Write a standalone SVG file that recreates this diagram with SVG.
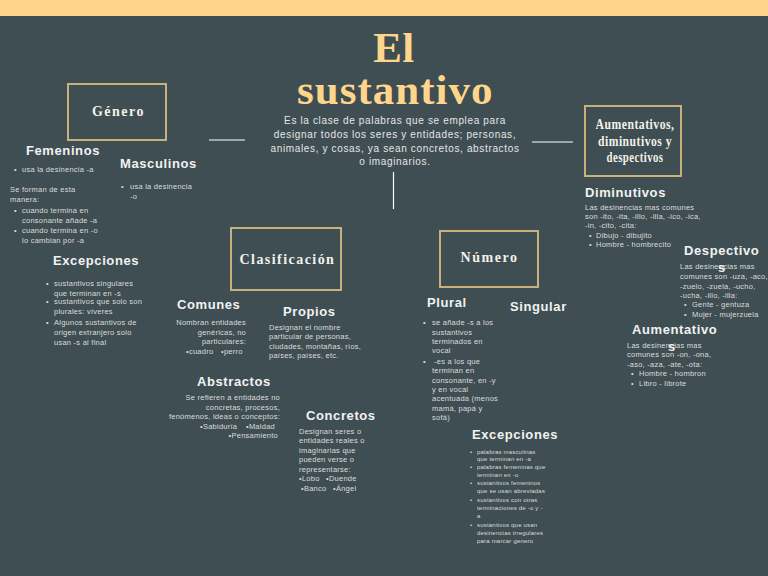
<svg xmlns="http://www.w3.org/2000/svg" width="768" height="576" viewBox="0 0 768 576">
<style>
.bg{fill:#3e4e52}
.box{fill:none;stroke:#c9b17e;stroke-width:2}
.ttl{font-family:"Liberation Serif","DejaVu Serif",serif;font-weight:bold;fill:#f4f1ea;font-size:14px;letter-spacing:0.6px;text-anchor:middle}
.big{font-family:"Liberation Serif","DejaVu Serif",serif;font-weight:bold;fill:#ffd58b;font-size:43px;text-anchor:middle;letter-spacing:0.5px}
.h{font-family:"Liberation Sans","Arial",sans-serif;font-weight:bold;fill:#f2f2f2;font-size:13px;letter-spacing:0.6px}
.t{font-family:"Liberation Sans","Arial",sans-serif;fill:#dcdcdc;font-size:7.5px;letter-spacing:0.25px}
.s{font-family:"Liberation Sans","Arial",sans-serif;fill:#dcdcdc;font-size:6px;letter-spacing:0.2px}
.d{font-family:"Liberation Sans","Arial",sans-serif;fill:#e6e6e6;font-size:10px;letter-spacing:0.65px;text-anchor:middle}
.r{text-anchor:end}
.ln{stroke:#ffffff;stroke-width:1.2;fill:none}
</style>
<rect class="bg" x="0" y="0" width="768" height="576"/>
<rect x="0" y="0" width="768" height="16" fill="#ffd58b"/>

<g id="connectors">
<line class="ln" x1="209" y1="140" x2="245" y2="140"/>
<line class="ln" x1="532" y1="142" x2="573" y2="142"/>
<line class="ln" x1="393.5" y1="172" x2="393.5" y2="209"/>
</g>

<g id="title">
<text class="big" x="394" y="62">El</text>
<text class="big" x="395" y="104" textLength="196" lengthAdjust="spacing">sustantivo</text>
<text class="d" x="395" y="124">Es la clase de palabras que se emplea para</text>
<text class="d" x="395" y="138">designar todos los seres y entidades; personas,</text>
<text class="d" x="395" y="152">animales, y cosas, ya sean concretos, abstractos</text>
<text class="d" x="395" y="165">o imaginarios.</text>
</g>

<g id="genero">
<rect class="box" x="68" y="84" width="98" height="56"/>
<text class="ttl" x="118" y="116" textLength="52" lengthAdjust="spacing">Género</text>
</g>

<g id="femeninos">
<text class="h" x="26" y="155">Femeninos</text>
<text class="t" x="14" y="172">•</text><text class="t" x="22" y="172">usa la desinencia -a</text>
<text class="t" x="10" y="192">Se forman de esta</text>
<text class="t" x="10" y="202">manera:</text>
<text class="t" x="14" y="213">•</text><text class="t" x="22" y="213">cuando termina en</text>
<text class="t" x="22" y="223">consonante añade -a</text>
<text class="t" x="14" y="233">•</text><text class="t" x="22" y="233">cuando termina en -o</text>
<text class="t" x="22" y="243">lo cambian por -a</text>
</g>

<g id="masculinos">
<text class="h" x="120" y="168">Masculinos</text>
<text class="t" x="121" y="189">•</text><text class="t" x="130" y="189">usa la desinencia</text>
<text class="t" x="130" y="199">-o</text>
</g>

<g id="excepciones1">
<text class="h" x="53" y="265">Excepciones</text>
<text class="t" x="46" y="286">•</text><text class="t" x="54" y="286">sustantivos singulares</text>
<text class="t" x="54" y="296">que terminan en -s</text>
<text class="t" x="46" y="304">•</text><text class="t" x="54" y="304">sustantivos que solo son</text>
<text class="t" x="54" y="314">plurales: víveres</text>
<text class="t" x="46" y="325">•</text><text class="t" x="54" y="325">Algunos sustantivos de</text>
<text class="t" x="54" y="335">origen extranjero solo</text>
<text class="t" x="54" y="345">usan -s al final</text>
</g>

<g id="clasificacion">
<rect class="box" x="231" y="228" width="110" height="62"/>
<text class="ttl" x="287" y="264" textLength="95" lengthAdjust="spacing">Clasificación</text>
</g>

<g id="comunes">
<text class="h" x="177" y="309">Comunes</text>
<text class="t r" x="246" y="325">Nombran entidades</text>
<text class="t r" x="246" y="335">genéricas, no</text>
<text class="t r" x="246" y="344">particulares:</text>
<text class="t" x="186" y="354">•cuadro</text>
<text class="t" x="221" y="354">•perro</text>
</g>

<g id="propios">
<text class="h" x="283" y="316">Propios</text>
<text class="t" x="269" y="330">Designan el nombre</text>
<text class="t" x="269" y="339">particular de personas,</text>
<text class="t" x="269" y="349">ciudades, montañas, ríos,</text>
<text class="t" x="269" y="358">países, países, etc.</text>
</g>

<g id="abstractos">
<text class="h" x="197" y="386">Abstractos</text>
<text class="t r" x="280" y="400">Se refieren a entidades no</text>
<text class="t r" x="280" y="410">concretas, procesos,</text>
<text class="t r" x="280" y="419">fenómenos, ideas o conceptos:</text>
<text class="t" x="200" y="429">•Sabiduría</text>
<text class="t" x="246" y="429">•Maldad</text>
<text class="t r" x="278" y="438">•Pensamiento</text>
</g>

<g id="concretos">
<text class="h" x="306" y="420">Concretos</text>
<text class="t" x="299" y="434">Designan seres o</text>
<text class="t" x="299" y="443">entidades reales o</text>
<text class="t" x="299" y="453">imaginarias que</text>
<text class="t" x="299" y="462">pueden verse o</text>
<text class="t" x="299" y="472">representarse:</text>
<text class="t" x="299" y="481">•Lobo</text>
<text class="t" x="326" y="481">•Duende</text>
<text class="t" x="301" y="491">•Banco</text>
<text class="t" x="333" y="491">•Ángel</text>
</g>

<g id="numero">
<rect class="box" x="440" y="231" width="98" height="56"/>
<text class="ttl" x="489" y="262" textLength="57" lengthAdjust="spacing">Número</text>
</g>

<g id="plural">
<text class="h" x="427" y="307">Plural</text>
<text class="t" x="423" y="325">•</text><text class="t" x="432" y="325">se añade -s a los</text>
<text class="t" x="432" y="335">sustantivos</text>
<text class="t" x="432" y="344">terminados en</text>
<text class="t" x="432" y="353">vocal</text>
<text class="t" x="423" y="364">•</text><text class="t" x="434" y="364">-es a los que</text>
<text class="t" x="432" y="373">terminan en</text>
<text class="t" x="432" y="383">consonante, en -y</text>
<text class="t" x="432" y="392">y en vocal</text>
<text class="t" x="432" y="401">acentuada (menos</text>
<text class="t" x="432" y="411">mamá, papá y</text>
<text class="t" x="432" y="420">sofá)</text>
</g>

<g id="singular">
<text class="h" x="510" y="311">Singular</text>
</g>

<g id="excepciones2">
<text class="h" x="472" y="439">Excepciones</text>
<text class="s" x="470" y="454">•</text><text class="s" x="477" y="454">palabras masculinas</text>
<text class="s" x="477" y="461">que terminan en -a</text>
<text class="s" x="470" y="469">•</text><text class="s" x="477" y="469">palabras femeninas que</text>
<text class="s" x="477" y="477">terminan en -o</text>
<text class="s" x="470" y="485">•</text><text class="s" x="477" y="485">sustantivos femeninos</text>
<text class="s" x="477" y="493">que se usan abreviadas</text>
<text class="s" x="470" y="502">•</text><text class="s" x="477" y="502">sustantivos con otras</text>
<text class="s" x="477" y="510">terminaciones de -o y -</text>
<text class="s" x="477" y="518">a</text>
<text class="s" x="470" y="527">•</text><text class="s" x="477" y="527">sustantivos que usan</text>
<text class="s" x="477" y="535">desinencias irregulares</text>
<text class="s" x="477" y="543">para marcar genero</text>
</g>

<g id="aumentativos-box">
<rect class="box" x="585" y="106" width="96" height="70"/>
<text class="ttl" x="635" y="129" textLength="79" lengthAdjust="spacingAndGlyphs">Aumentativos,</text>
<text class="ttl" x="635" y="146" textLength="74" lengthAdjust="spacingAndGlyphs">diminutivos y</text>
<text class="ttl" x="635" y="162" textLength="57" lengthAdjust="spacingAndGlyphs">despectivos</text>
</g>

<g id="diminutivos">
<text class="h" x="585" y="197">Diminutivos</text>
<text class="t" x="585" y="210">Las desinencias mas comunes</text>
<text class="t" x="585" y="219">son -ito, -ita, -illo, -illa, -ico, -ica,</text>
<text class="t" x="585" y="228">-in, -cito, -cita:</text>
<text class="t" x="589" y="238">•</text><text class="t" x="596" y="238">Dibujo - dibujito</text>
<text class="t" x="589" y="247">•</text><text class="t" x="596" y="247">Hombre - hombrecito</text>
</g>

<g id="despectivos">
<text class="h" x="684" y="255">Despectivo</text>
<text class="t" x="680" y="269">Las desinencias mas</text>
<text class="h" x="718" y="272">s</text>
<text class="t" x="680" y="279">comunes son -uza, -aco,</text>
<text class="t" x="680" y="289">-zuelo, -zuela, -ucho,</text>
<text class="t" x="680" y="298">-ucha, -illo, -illa:</text>
<text class="t" x="684" y="307">•</text><text class="t" x="692" y="307">Gente - gentuza</text>
<text class="t" x="684" y="317">•</text><text class="t" x="692" y="317">Mujer - mujerzuela</text>
</g>

<g id="aumentativos">
<text class="h" x="632" y="334">Aumentativo</text>
<text class="t" x="627" y="348">Las desinencias mas</text>
<text class="h" x="668" y="351">s</text>
<text class="t" x="627" y="357">comunes son -on, -ona,</text>
<text class="t" x="627" y="367">-aso, -aza, -ate, -ota:</text>
<text class="t" x="631" y="376">•</text><text class="t" x="639" y="376">Hombre - hombron</text>
<text class="t" x="631" y="386">•</text><text class="t" x="639" y="386">Libro - librote</text>
</g>
</svg>
